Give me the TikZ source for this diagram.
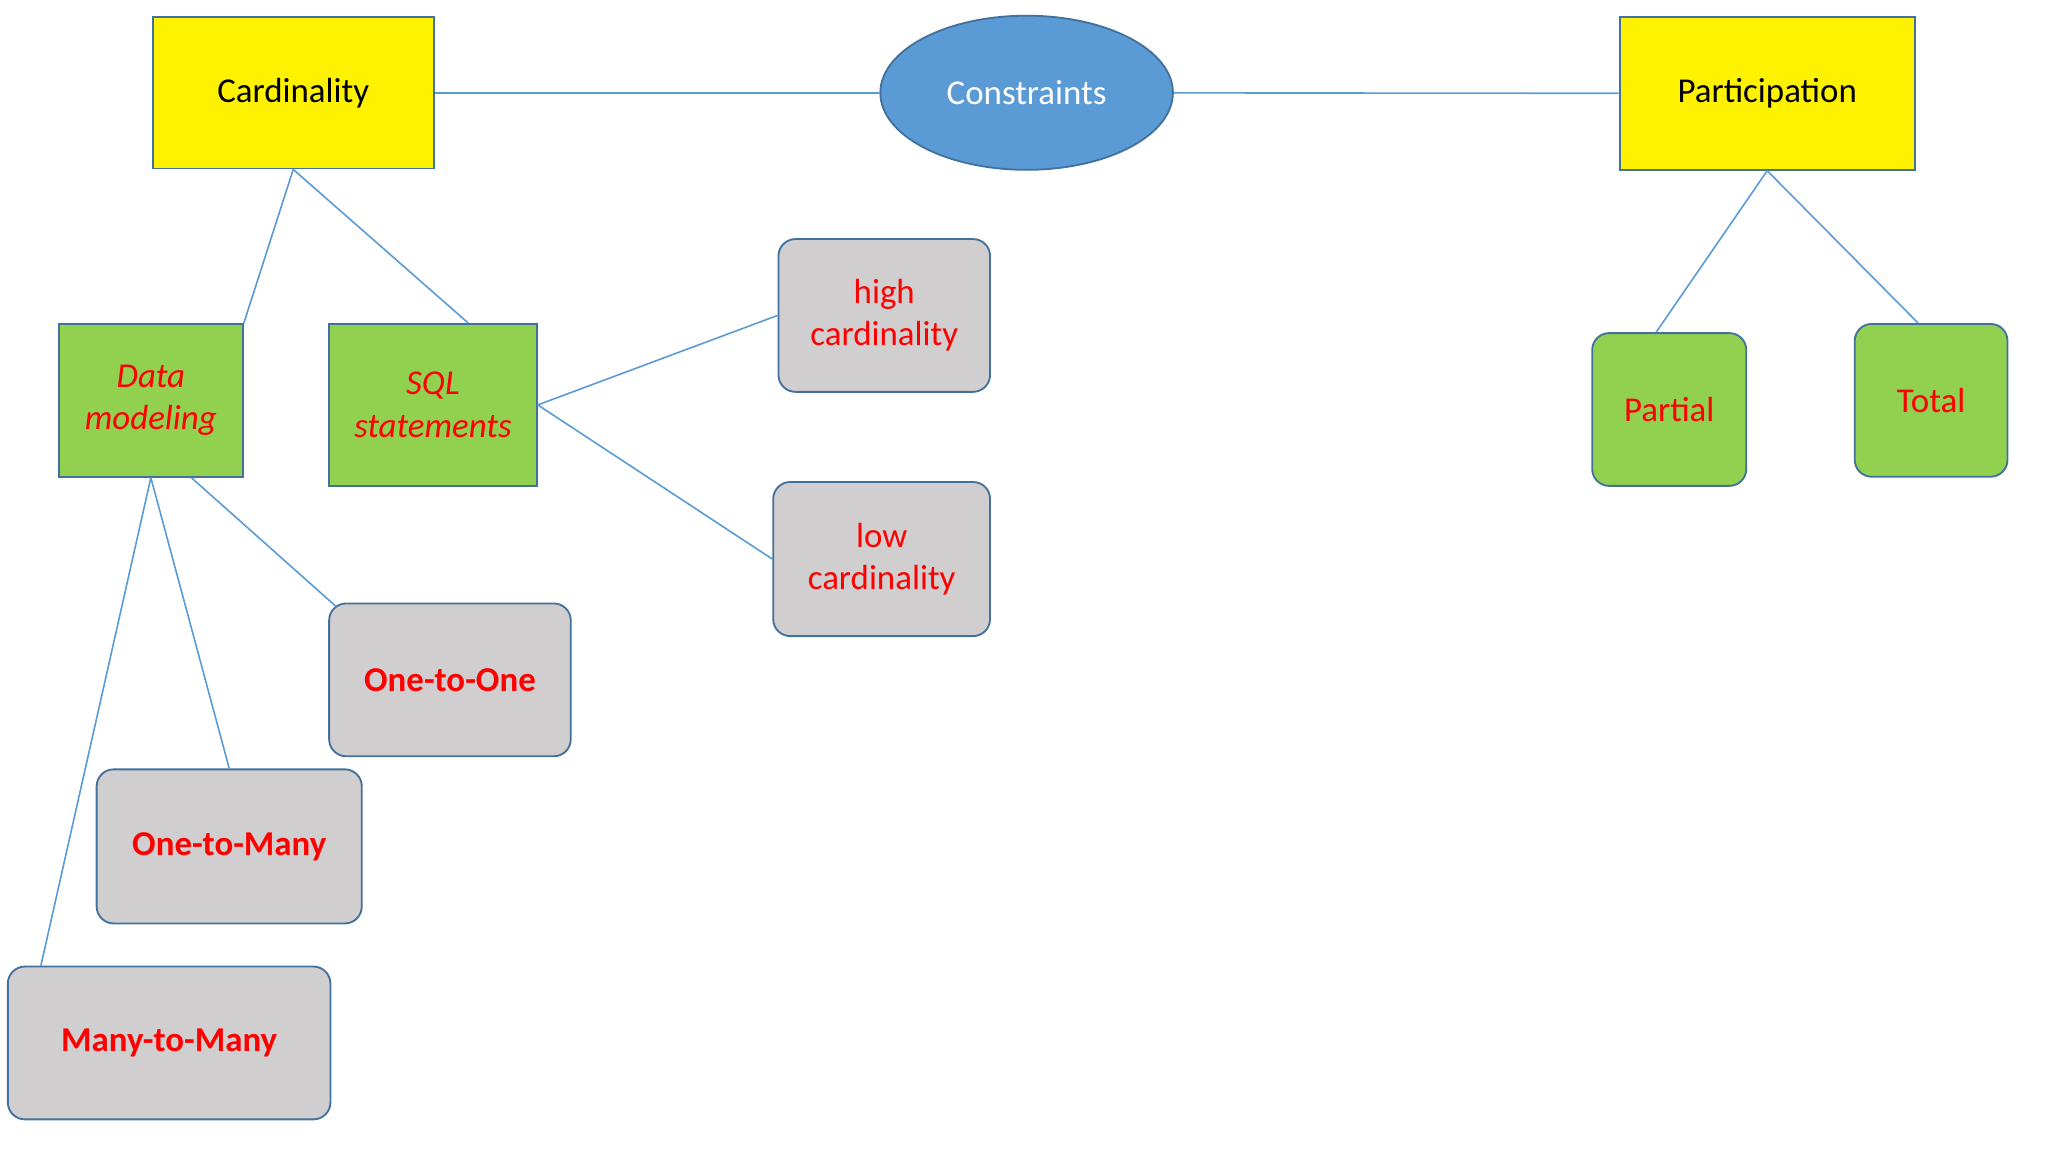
\documentclass[tikz,border=0pt]{standalone}
\usepackage{fontspec}
\setmainfont{Carlito}
\usetikzlibrary{positioning,shapes.geometric}
\definecolor{edge}{HTML}{41719C}
\definecolor{link}{HTML}{5B9BD5}
\definecolor{leaf}{HTML}{92D050}
\definecolor{card}{HTML}{D0CECE}
\tikzset{
  every node/.style={font=\fontsize{7.6}{9.2}\selectfont, align=center},
  head/.style={draw=edge, fill=yellow, minimum width=#1},
  kind/.style={draw=edge, fill=leaf, text=red, font=\fontsize{7.6}{9.2}\selectfont\itshape},
  case/.style={draw=edge, fill=card, rounded corners=0.13cm, text=red},
  link/.style={draw=link, line width=0.35pt}
}
\begin{document}
\begin{tikzpicture}
\useasboundingbox (0,0) rectangle (15.68,-8.82);
\node[head, minimum width=2.15cm, minimum height=1.16cm] (Card) at (2.245,-0.71) {Cardinality};
\node[draw=edge, fill=link, ellipse, text=white, minimum width=2.24cm, minimum height=1.18cm] (Cons) at (7.86,-0.71) {Constraints};
\node[head, minimum width=2.26cm, minimum height=1.17cm] (Part) at (13.53,-0.715) {Participation};
\node[kind, minimum width=1.41cm, minimum height=1.17cm] (Model) at (1.155,-3.065) {Data\\modeling};
\node[kind, minimum width=1.59cm, minimum height=1.24cm] (SQL) at (3.315,-3.10) {SQL\\statements};
\node[case, minimum width=1.62cm, minimum height=1.17cm] (High) at (6.77,-2.415) {high\\cardinality};
\node[case, minimum width=1.66cm, minimum height=1.18cm] (Low) at (6.75,-4.28) {low\\cardinality};
\node[case, font=\fontsize{7.6}{9.2}\selectfont\bfseries, minimum width=1.85cm, minimum height=1.17cm] (OneOne) at (3.445,-5.205) {One-to-One};
\node[case, font=\fontsize{7.6}{9.2}\selectfont\bfseries, minimum width=2.03cm, minimum height=1.18cm] (OneMany) at (1.755,-6.48) {One-to-Many};
\node[case, font=\fontsize{7.6}{9.2}\selectfont\bfseries, minimum width=2.47cm, minimum height=1.17cm] (ManyMany) at (1.295,-7.985) {Many-to-Many};
\node[case, fill=leaf, minimum width=1.18cm, minimum height=1.17cm] (Partial) at (12.78,-3.135) {Partial};
\node[case, fill=leaf, minimum width=1.17cm, minimum height=1.17cm] (Total) at (14.785,-3.065) {Total};
% connectors
\draw[link] (Card) -- (Cons);
\draw[link] (Cons) -- (Part);
\draw[link] (Card.south) -- (Model.north east) ++(0,0);
\draw[link] (Card.south) -- ([xshift=0.27cm]SQL.north);
\draw[link] (SQL.east) -- (High.west);
\draw[link] (SQL.east) -- (Low.west);
\draw[link] (Model.south) -- ([xshift=0.26cm]ManyMany.north west);
\draw[link] (Model.south) -- (OneMany.north);
\draw[link] ([xshift=0.31cm]Model.south) -- ([xshift=0.06cm,yshift=-0.03cm]OneOne.north west);
\draw[link] (Part.south) -- ([xshift=-0.1cm]Partial.north);
\draw[link] (Part.south) -- ([xshift=-0.1cm]Total.north);
\end{tikzpicture}
\end{document}
